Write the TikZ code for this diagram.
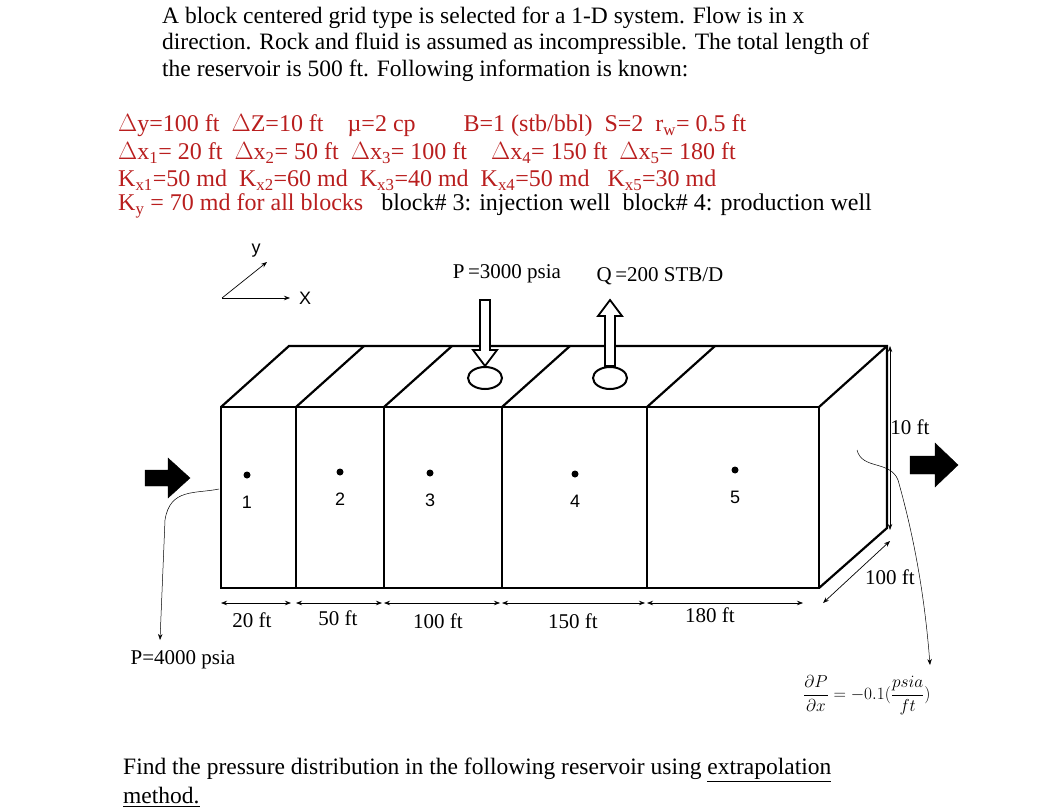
\documentclass[tikz,border=0pt]{standalone}
\usepackage{fontspec}
\setmainfont{Liberation Serif}
\newfontfamily\arialf{Liberation Sans}
\usetikzlibrary{arrows.meta}
\definecolor{rd}{RGB}{185,30,30}
\begin{document}
\begin{tikzpicture}[x=1pt,y=-1pt,
  txt/.style={anchor=west,inner sep=0pt,font=\fontsize{23.5}{25}\selectfont},
  par/.style={anchor=west,inner sep=0pt,font=\fontsize{24}{25}\selectfont,text=rd},
  lbl/.style={inner sep=0pt,font=\fontsize{21}{23}\selectfont},
  num/.style={inner sep=0pt,font=\arialf\fontsize{18}{20}\selectfont},
  box/.style={line width=2.2pt,line join=miter},
  dim/.style={-{Stealth[length=6pt]},line width=0.7pt},
  dd/.style={{Stealth[length=6pt]}-{Stealth[length=6pt]},line width=0.7pt},
  fat/.style={fill=black,draw=black}]
\useasboundingbox (0,0) rectangle (1064,810);
\fill[white] (0,0) rectangle (1064,810);
\node[txt] (t1) at (162,18) {A block centered grid type is selected for a 1-D system. Flow is in x};
\node[txt] (t2) at (162,44) {direction. Rock and fluid is assumed as incompressible. The total length of};
\node[txt] (t3) at (162,71) {the reservoir is 500 ft. Following information is known:};
\node[par] (p1) at (118,126) {$\Delta$y=100 ft\ \ $\Delta$Z=10 ft\quad µ=2 cp\qquad B=1 (stb/bbl)\ \ S=2\ \ r\textsubscript{w}= 0.5 ft};
\node[par] (p2) at (118,153) {$\Delta$x\textsubscript{1}= 20 ft\ \ $\Delta$x\textsubscript{2}= 50 ft\ \ $\Delta$x\textsubscript{3}= 100 ft\quad$\Delta$x\textsubscript{4}= 150 ft\ \ $\Delta$x\textsubscript{5}= 180 ft};
\node[par] (p3) at (118,180) {K\textsubscript{x1}=50 md\ \ K\textsubscript{x2}=60 md\ \ K\textsubscript{x3}=40 md\ \ K\textsubscript{x4}=50 md\ \ \ K\textsubscript{x5}=30 md};
\node[par] (p4) at (118,206) {K\textsubscript{y} = 70 md for all blocks\ \ \ \textcolor{black}{block\# 3: injection well\ \ block\# 4: production well}};
% axes
\coordinate (o) at (222,298);
\coordinate (ax) at (290,298);
\coordinate (ay) at (267,262);
\draw[dim] (o) -- (ax);
\draw[dim] (o) -- (ay);
\node[num] (lx) at (305,298) {X};
\node[num] (ly) at (256,251) {y};
% box
\draw[box] (221,407) rectangle (819,588);
\draw[box] (221,407) -- (289,346) -- (887,346) -- (887,528) -- (819,588);
\draw[box] (819,407) -- (887,346);
\foreach \x in {296,384,502,647}{
  \draw[box] (\x,407) -- (\x,588);
  \draw[box] (\x,407) -- (\x+68,346);
}
% wells
\draw[line width=2pt] (485,378) ellipse (17 and 11);
\draw[line width=2pt] (610,378) ellipse (17 and 11);
\draw[line width=1.8pt,fill=white] (480,300) -- (490,300) -- (490,350) -- (497,350) -- (485,366) -- (473,350) -- (480,350) -- cycle;
\draw[line width=1.8pt,fill=white] (605,366) -- (615,366) -- (615,316) -- (622,316) -- (610,300) -- (598,316) -- (605,316) -- cycle;
\node[lbl] (pw) at (507,274) {P\,=3000 psia};
\node[lbl] (qw) at (660,276) {Q\,=200 STB/D};
% block centres
\foreach \x/\y/\n in {247/475/1,340/472/2,430/473/3,575/474/4,735/470/5}{
  \fill (\x,\y) circle (3.5);
  \node[num] (n\n) at (\x,\y+27) {\n};
}
% dimensions
\foreach \a/\b in {221/291,296/382,384/500,502/645,647/803}{
  \draw[dd] (\a,603) -- (\b,603);
}
\node[lbl] (d1) at (252,620) {20 ft};
\node[lbl] (d2) at (338,618) {50 ft};
\node[lbl] (d3) at (438,621) {100 ft};
\node[lbl] (d4) at (573,621) {150 ft};
\node[lbl] (d5) at (710,615) {180 ft};
\draw[dd] (890,346) -- (890,530);
\node[lbl] (h) at (910,427) {10 ft};
\draw[dd] (823,603) -- (890,541);
\node[lbl] (w) at (890,577) {100 ft};
% flow arrows
\draw[fat] (145,470) -- (168,470) -- (168,458) -- (190,478) -- (168,498) -- (168,486) -- (145,486) -- cycle;
\draw[fat] (910,456) -- (935,456) -- (935,443) -- (958,465) -- (935,487) -- (935,474) -- (910,474) -- cycle;
% boundary labels
\coordinate (bl) at (219,489);
\draw[dim,line width=0.5pt] (bl) .. controls (195,494) and (170,488) .. (165,520) -- (160,640);
\node[lbl] (pl) at (183,660) {P=4000 psia};
\coordinate (br) at (857,450);
\draw[dim,line width=0.5pt] (br) .. controls (862,470) and (890,460) .. (898,480) .. controls (915,540) and (925,600) .. (930,665);
\node[lbl,anchor=west,font=\fontsize{17}{19}\selectfont] (fr) at (803,695) {$\displaystyle\frac{\partial P}{\partial x}=-0.1(\frac{psia}{ft})$};
\node[txt] (b1) at (123,770) {Find the pressure distribution in the following reservoir using \underline{extrapolation}};
\node[txt] (b2) at (123,797) {\underline{method.}};
\end{tikzpicture}
\end{document}
